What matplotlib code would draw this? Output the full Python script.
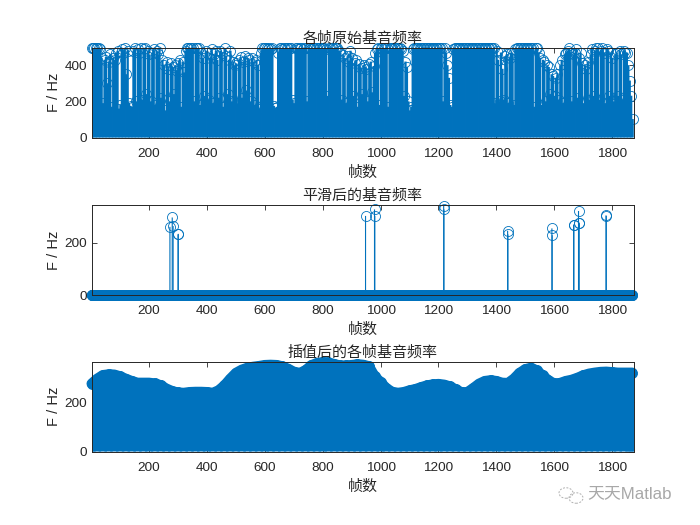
import numpy as np
import matplotlib
matplotlib.use("Agg")
import matplotlib.pyplot as plt
from matplotlib.patches import Circle

plt.rcParams['font.family'] = ['Liberation Sans', 'Noto Sans CJK SC', 'DejaVu Sans']

raw_step = 5
raw_pitch = [
    495,495,495,495,495,495,492,440,190,430,
    445,300,420,460,170,440,430,470,480,160,
    180,490,470,495,350,480,190,175,170,480,
    495,200,490,470,495,210,488,495,240,480,
    460,200,470,490,180,480,460,495,220,430,
    400,150,420,380,200,410,390,240,400,370,
    410,430,170,420,360,480,495,495,495,495,
    495,200,495,495,495,180,470,440,230,480,
    470,210,440,490,190,460,480,430,220,480,
    470,170,495,450,240,430,480,200,420,400,
    410,190,430,445,220,420,450,260,440,430,
    200,440,420,180,430,400,160,470,495,495,
    495,493,490,495,490,495,175,165,170,470,
    495,495,490,495,495,495,493,495,495,210,
    190,495,495,490,495,495,490,495,495,200,
    495,495,490,495,495,495,495,493,495,495,
    495,495,490,230,495,495,495,495,495,495,
    495,480,470,210,455,440,190,450,420,480,
    440,230,410,430,170,405,385,240,400,390,
    380,200,405,420,250,395,470,490,495,180,
    495,495,495,495,495,170,495,495,495,495,
    495,495,495,495,490,480,230,420,390,200,
    150,170,490,495,495,495,495,495,495,495,
    495,495,495,495,495,495,495,495,495,495,
    495,495,495,200,495,470,400,330,180,170,
    490,495,495,495,495,495,495,495,495,495,
    495,495,495,495,495,495,495,495,495,495,
    495,495,495,495,495,495,495,495,495,190,
    480,430,200,470,380,210,450,460,190,440,
    470,460,180,490,495,495,495,495,495,495,
    495,495,495,495,495,495,170,495,495,470,
    440,180,430,420,200,400,390,240,350,340,
    230,330,350,210,400,430,190,460,470,480,
    495,470,200,460,470,490,220,440,470,410,
    190,400,380,420,210,460,490,230,480,495,
    495,210,480,495,470,190,490,480,230,470,
    440,200,460,470,230,480,460,210,480,470,
    470,400,315,231,102,
]

peak_frames = [272, 280, 283, 300, 301, 948, 979, 980, 1218, 1219, 1439, 1440,
               1592, 1593, 1667, 1668, 1684, 1685, 1686, 1779, 1780]
peak_values = [262, 298, 265, 233, 235, 304, 329, 304, 343, 329, 247, 233,
               256, 230, 271, 268, 323, 275, 278, 306, 304]

interp_frames = [1, 20, 40, 60, 80, 100, 120, 140, 160, 180, 200, 220, 240, 260, 280, 300,
                 320, 340, 360, 380, 400, 420, 440, 460, 480, 500, 520, 540, 560, 580,
                 600, 620, 640, 660, 680, 700, 720, 740, 760, 780, 800, 820, 840, 860,
                 880, 900, 920, 940, 960, 980, 1000, 1020, 1040, 1060, 1080, 1100, 1120,
                 1140, 1160, 1180, 1200, 1220, 1240, 1260, 1280, 1300, 1320, 1340, 1360,
                 1380, 1400, 1420, 1440, 1460, 1480, 1500, 1520, 1540, 1560, 1580, 1600,
                 1620, 1640, 1660, 1680, 1700, 1720, 1740, 1760, 1780, 1800, 1820, 1840,
                 1860, 1870]
interp_values = [276, 296, 311, 314, 313, 306, 296, 287, 280, 280, 280, 277, 270, 256, 246, 240,
                 239, 242, 243, 243, 242, 239, 249, 269, 296, 320, 333, 341, 345, 348,
                 352, 353, 352, 347, 337, 325, 320, 330, 351, 360, 364, 362, 356, 350,
                 350, 352, 355, 353, 347, 306, 283, 258, 243, 239, 242, 249, 254,
                 262, 269, 273, 275, 272, 265, 253, 241, 242, 258, 276, 287,
                 290, 287, 280, 279, 296, 320, 335, 341, 330, 310, 290, 277,
                 279, 287, 292, 300, 310, 317, 321, 324, 325, 323, 321, 321,
                 321, 321]

titles = ['各帧原始基音频率', '平滑后的基音频率', '插值后的各帧基音频率']
x_ticks = [200, 400, 600, 800, 1000, 1200, 1400, 1600, 1800]

BLUE = '#0072BD'
DARK = '#262626'
W, H = 700, 525

raw_frames = 1 + raw_step * np.arange(len(raw_pitch))
smooth_frames = np.arange(1, 1871)
smooth_values = np.zeros(len(smooth_frames))
for f, v in zip(peak_frames, peak_values):
    smooth_values[f - 1] = v

fig = plt.figure(figsize=(7, 5.25), dpi=100, facecolor='white')


def panel(top, bottom, x, y, ymax, yticks, title, stem_lw, face='none', ms=7.2):
    ax = fig.add_axes([91.5 / W, 1 - bottom / H, 542 / W, (bottom - top) / H])
    m, s, b = ax.stem(x, y, linefmt='-', markerfmt='o', basefmt='-')
    s.set_color(BLUE)
    s.set_linewidth(stem_lw)
    s.set_snap(False)
    m.set_markerfacecolor(face)
    m.set_markeredgecolor(BLUE)
    m.set_markeredgewidth(0.6)
    m.set_markersize(ms)
    m.set_clip_on(False)
    b.set_color(DARK)
    b.set_linewidth(0.7)
    b.set_zorder(4)
    ax.set_xlim(1, 1874)
    ax.set_ylim(0, ymax)
    ax.set_xticks(x_ticks)
    ax.set_yticks(yticks)
    ax.tick_params(direction='in', length=3.5, width=0.6, top=True, right=True,
                   labelsize=9.7, colors=DARK)
    ax.tick_params(axis='x', pad=7.5)
    ax.tick_params(axis='y', pad=3)
    for sp in ax.spines.values():
        sp.set_linewidth(0.7)
        sp.set_color(DARK)
        sp.set_zorder(5)
    ax.set_xlabel('帧数', fontsize=10.8, color=DARK, labelpad=4)
    ax.set_ylabel('F / Hz', fontsize=10.5, color=DARK, labelpad=2.5)
    ax.set_title(title, fontsize=10.8, color=DARK, pad=3.5)
    return ax


panel(48, 137.5, raw_frames, raw_pitch, 495, [0, 200, 400], titles[0], 1.65)

ax2 = panel(205, 295, smooth_frames, smooth_values, 346, [0, 200], titles[1], 0.8)
# the zero-valued circles overlap into a solid band along the baseline
ax2.plot(smooth_frames, np.zeros(len(smooth_frames)), color=BLUE, lw=6.6,
         solid_capstyle='round', clip_on=False, zorder=3)

ax3 = panel(362, 451.5, interp_frames, interp_values, 364, [0, 200], titles[2], 6.0, face=BLUE)
# dense circles in the reference merge into a smooth outline
ax3.plot(interp_frames, interp_values, color=BLUE, lw=7.2,
         solid_capstyle='round', solid_joinstyle='round', clip_on=False, zorder=3)

# watermark
fig.text(587 / W, 1 - 494 / H, '天天Matlab', fontsize=12.2, color='#a8a8a8',
         va='center', ha='left')
for cx, cy, r in [(566, 493, 7), (576, 498, 7)]:
    fig.add_artist(Circle((cx / W, 1 - cy / H), r / W, transform=fig.transFigure,
                          fill=False, ec='#b0b0b0', lw=0.7, ls=(0, (2, 1.5))))

fig.savefig('out.png', dpi=100)
